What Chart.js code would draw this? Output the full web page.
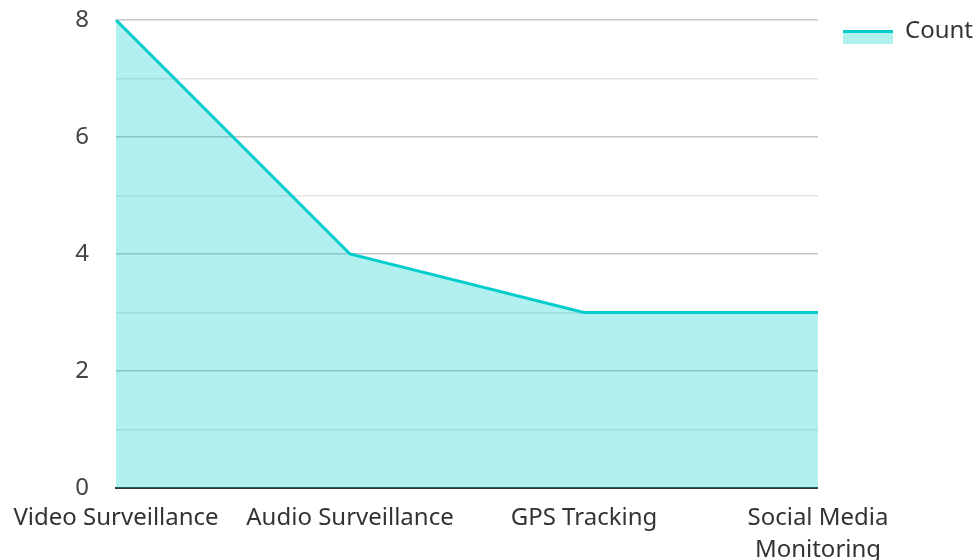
<!DOCTYPE html>
<html>
<head>
<meta charset="utf-8">
<script src="https://cdn.jsdelivr.net/npm/chart.js@4"></script>
<style>
  html, body { margin: 0; padding: 0; background: #fff; }
  #wrap { width: 976px; height: 560px; }
</style>
</head>
<body>
<div id="wrap"><canvas id="chart"></canvas></div>
<script>
const categories = ['Video Surveillance', 'Audio Surveillance', 'GPS Tracking', ['Social Media', 'Monitoring']]
const counts = [8, 4, 3, 3]
const yTicks = [0, 2, 4, 6, 8]

const lineColor = '#00cccc'
const fillColor = 'rgba(0, 204, 204, 0.3)'

Chart.defaults.font.family = '"Noto Sans", sans-serif'
Chart.defaults.font.size = 24
Chart.defaults.color = '#333'

// legend: the built-in legend only reserves the space,
// sample (fill + thick top line) and text are drawn here
const legendLine = {
  id: 'legendLine',
  afterDraw(chart) {
    const lg = chart.legend
    if (!lg || !lg.legendHitBoxes) return
    const ctx = chart.ctx
    const bw = lg.options.labels.boxWidth
    lg.legendHitBoxes.forEach((box, i) => {
      const top = box.top + 5
      ctx.save()
      ctx.fillStyle = fillColor
      ctx.fillRect(box.left, top, bw, 14)
      ctx.strokeStyle = lineColor
      ctx.lineWidth = 3
      ctx.beginPath()
      ctx.moveTo(box.left, top + 1.5)
      ctx.lineTo(box.left + bw, top + 1.5)
      ctx.stroke()
      ctx.fillStyle = '#333'
      ctx.font = '24px "Noto Sans", sans-serif'
      ctx.textBaseline = 'middle'
      ctx.textAlign = 'left'
      ctx.fillText(lg.legendItems[i].text, box.left + bw + 12, box.top + 6)
      ctx.restore()
    })
  }
}

var ctx = document.getElementById('chart').getContext('2d')
var chart = new Chart(ctx, {
  type: 'line',
  plugins: [legendLine],
  data: {
    labels: categories,
    datasets: [{
      label: 'Count',
      data: counts,
      borderColor: lineColor,
      backgroundColor: fillColor,
      borderWidth: 3,
      fill: 'origin',
      tension: 0,
      pointRadius: 0,
      pointHoverRadius: 0
    }]
  },
  options: {
    responsive: true,
    maintainAspectRatio: false,
    animation: false,
    layout: { padding: { left: 0, right: -7, top: 0, bottom: 0 } },
    plugins: {
      tooltip: { enabled: false },
      legend: {
        position: 'right',
        align: 'start',
        labels: {
          boxWidth: 50,
          boxHeight: 14,
          padding: 25,
          color: 'rgba(0,0,0,0)',
          generateLabels: (c) => [{
            text: 'Count',
            fontColor: 'rgba(0,0,0,0)',
            fillStyle: 'rgba(0,0,0,0)',
            strokeStyle: 'rgba(0,0,0,0)',
            lineWidth: 0,
            datasetIndex: 0
          }]
        }
      }
    },
    scales: {
      x: {
        offset: false,
        grid: { display: false, drawTicks: false },
        border: { display: true, color: '#333', width: 2 },
        ticks: {
          padding: 14,
          maxRotation: 0,
          autoSkip: false,
          color: '#333',
          font: { size: 24, lineHeight: 1.35 }
        },
        afterFit: (s) => {
          s.height = 72
          s.paddingLeft = 116
        }
      },
      y: {
        min: 0,
        max: 8,
        grid: {
          drawTicks: false,
          color: (c) => (c.tick.value % 2 === 0 ? '#c4c4c4' : '#e4e4e4'),
          lineWidth: 1.5
        },
        border: { display: false },
        ticks: {
          stepSize: 1,
          padding: 27,
          color: '#444',
          callback: (v) => (yTicks.includes(v) ? v : '')
        },
        afterFit: (s) => {
          s.paddingTop = 20
          s.paddingBottom = 0
        }
      }
    }
  }
})
</script>
</body>
</html>
